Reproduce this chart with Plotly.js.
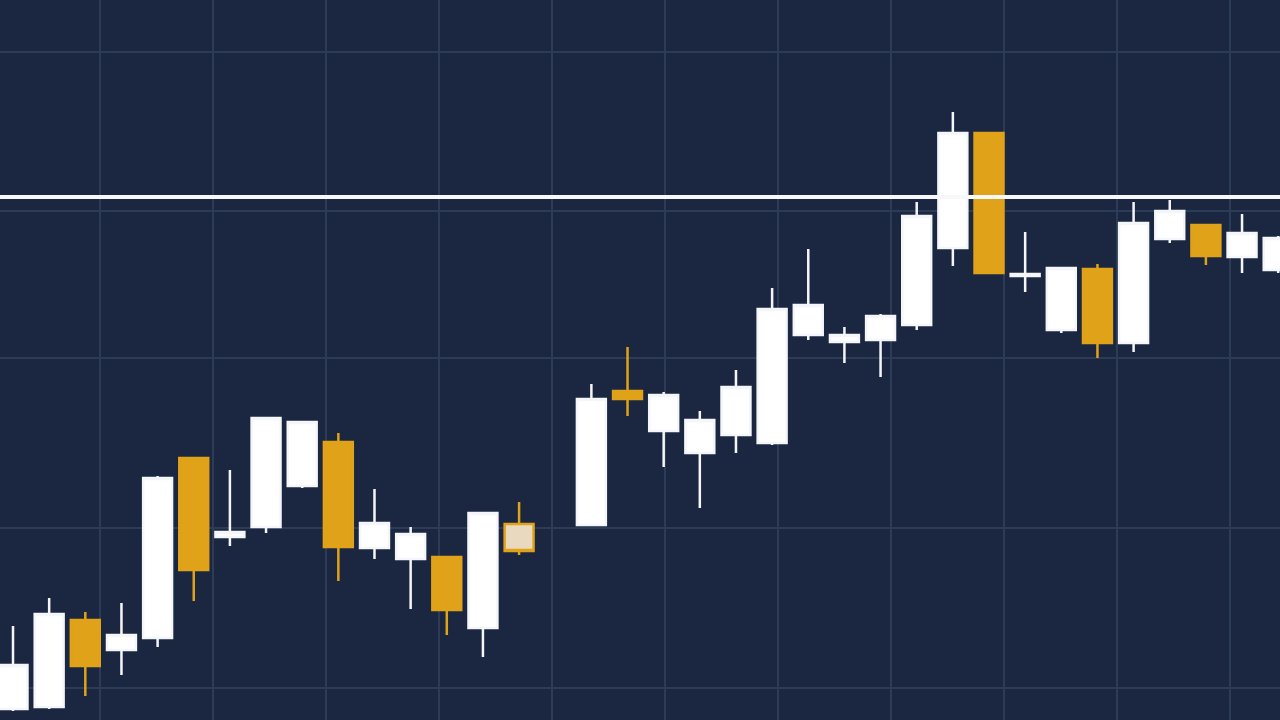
<!DOCTYPE html>
<html>
<head>
<meta charset="utf-8">
<script src="https://cdn.plot.ly/plotly-3.0.1.min.js"></script>
<style>
  html, body { margin: 0; padding: 0; background: #1b2740; overflow: hidden; }
  #chart { width: 1280px; height: 720px; }
</style>
</head>
<body>
<div id="chart"></div>
<script>
// Session index (one candle per session); session 15 is still forming (no data)
const sessions = [0,1,2,3,4,5,6,7,8,9,10,11,12,13,14,15,16,17,18,19,20,21,22,23,24,25,26,27,28,29,30,31,32,33,34,35];
const openPx  = [11,13,100,70,82,262,183,193,234,278,172,161,163,92,null,null,195,329,289,267,285,277,385,378,380,395,472,587,444,390,451,377,481,495,463,450];
const highPx  = [94,122,108,117,244,263,250,302,299,287,231,193,164,208,null,null,336,373,328,309,350,432,471,393,406,518,608,588,488,453,456,518,520,496,506,484];
const lowPx   = [9,11,24,45,73,119,174,187,232,139,161,111,85,63,null,null,194,304,253,212,267,275,380,357,343,390,454,446,428,387,362,368,477,455,447,447];
const closePx = [55,106,54,85,242,150,188,302,298,173,197,186,110,207,null,null,321,321,325,300,333,411,415,385,404,504,587,447,446,452,377,497,509,464,487,482];

// The highlighted (fading) candle
const fadeSession = [14];
const fadeOpen  = [196];
const fadeHigh  = [218];
const fadeLow   = [165];
const fadeClose = [169];

// Resistance level
const resistance = 523;

// Horizontal grid levels
const yGrid = [668, 509, 362, 192, 32];

const WHITE = '#f4f6f9';
const GOLD = '#dfa218';

const main = {
  type: 'candlestick',
  x: sessions, open: openPx, high: highPx, low: lowPx, close: closePx,
  increasing: { line: { color: WHITE, width: 2.5 }, fillcolor: '#ffffff' },
  decreasing: { line: { color: GOLD, width: 2.5 }, fillcolor: GOLD },
  whiskerwidth: 0,
  hoverinfo: 'skip',
  showlegend: false
};

const fade = {
  type: 'candlestick',
  x: fadeSession, open: fadeOpen, high: fadeHigh, low: fadeLow, close: fadeClose,
  increasing: { line: { color: GOLD, width: 2.5 }, fillcolor: '#e9d9bf' },
  decreasing: { line: { color: GOLD, width: 2.5 }, fillcolor: '#e9d9bf' },
  whiskerwidth: 0,
  hoverinfo: 'skip',
  showlegend: false
};

const layout = {
  width: 1280, height: 720,
  margin: { l: 0, r: 0, t: 0, b: 0 },
  paper_bgcolor: '#1b2740',
  plot_bgcolor: '#1b2740',
  showlegend: false,
  boxgap: 0.2,
  boxgroupgap: 0,
  xaxis: {
    range: [-0.36, 35.05],
    rangeslider: { visible: false },
    tickmode: 'linear', tick0: 2.407, dtick: 3.126,
    showgrid: true, gridcolor: '#2d3c56', gridwidth: 2,
    showticklabels: false, zeroline: false, showline: false, ticks: ''
  },
  yaxis: {
    range: [0, 720],
    tickmode: 'array', tickvals: yGrid,
    showgrid: true, gridcolor: '#2d3c56', gridwidth: 2,
    showticklabels: false, zeroline: false, showline: false, ticks: ''
  },
  shapes: [{
    type: 'line', xref: 'paper', x0: 0, x1: 1,
    yref: 'y', y0: resistance, y1: resistance,
    line: { color: '#f7f8fa', width: 4 },
    layer: 'above'
  }]
};

Plotly.newPlot('chart', [main, fade], layout, { staticPlot: true, displayModeBar: false });
</script>
</body>
</html>
